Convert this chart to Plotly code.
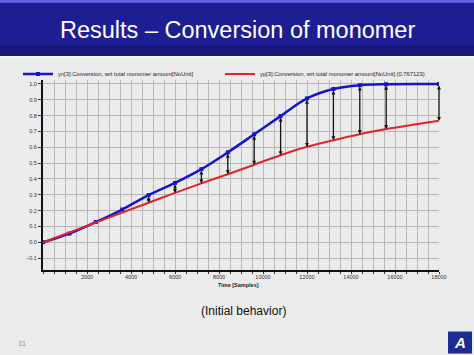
import plotly.graph_objects as go

# ---- data ----
time_blue = [0, 1200, 2400, 3600, 4800, 6000, 7200, 8400, 9600, 10800, 12000, 13200, 14400, 15600, 18000]
conv_yn = [0.0, 0.055, 0.128, 0.207, 0.298, 0.375, 0.462, 0.568, 0.682, 0.797, 0.909, 0.968, 0.992, 0.998, 0.999]
time_red = [0, 1200, 2400, 3600, 4800, 6000, 7200, 8400, 9600, 10800, 12000, 13200, 14400, 15600, 16800, 18000]
conv_yp = [0.0, 0.062, 0.125, 0.188, 0.25, 0.312, 0.372, 0.43, 0.49, 0.55, 0.603, 0.645, 0.683, 0.715, 0.742, 0.767]
arrow_times = [3600, 4800, 6000, 7200, 8400, 9600, 10800, 12000, 13200, 14400, 15600, 18000]
x_ticks = [2000, 4000, 6000, 8000, 10000, 12000, 14000, 16000, 18000]
y_ticks = [-0.1, 0.0, 0.1, 0.2, 0.3, 0.4, 0.5, 0.6, 0.7, 0.8, 0.9, 1.0]

name_yn = "yn[3]:Conversion, wrt total monomer amount[NoUnit]"
name_yp = "yp[3]:Conversion, wrt total monomer amount[NoUnit] (0.767123)"
title_text = "Results – Conversion of monomer"
caption = "(Initial behavior)"
page_no = "11"

W, H = 474, 355
L, R, T, B = 43, 35, 80, 85.4
PW, PH = W - L - R, H - T - B


def px(p):
    return (p - L) / PW


def py(p):
    return (H - B - p) / PH


FONT = "Liberation Sans, Arial, sans-serif"
BG = "#ebebeb"

fig = go.Figure()
fig.add_trace(go.Scatter(
    x=time_blue, y=conv_yn, mode="lines+markers", name=name_yn,
    line=dict(color="#1515cc", width=2.5, shape="spline"),
    marker=dict(symbol="square", size=4, color="#1515cc"), legend="legend"))
fig.add_trace(go.Scatter(
    x=time_red, y=conv_yp, mode="lines", name=name_yp,
    line=dict(color="#e0242c", width=2, shape="spline"), legend="legend2"))

red_map = dict(zip(time_red, conv_yp))
blue_map = dict(zip(time_blue, conv_yn))
for t in arrow_times:
    fig.add_annotation(
        x=t, y=red_map[t], ax=t, ay=blue_map[t], xref="x", yref="y", axref="x", ayref="y",
        showarrow=True, arrowhead=2, arrowside="end+start", arrowsize=0.6,
        arrowwidth=1.3, arrowcolor="#111111", text="")

shapes = [
    dict(type="rect", xref="paper", yref="paper", x0=px(0), x1=px(W), y0=py(56), y1=py(0),
         fillcolor="#1e1e94", line_width=0, layer="below"),
    dict(type="rect", xref="paper", yref="paper", x0=px(0), x1=px(W), y0=py(45), y1=py(56),
         fillcolor="#18187a", line_width=0, layer="below"),
    dict(type="rect", xref="paper", yref="paper", x0=px(0), x1=px(W), y0=py(3), y1=py(0),
         fillcolor="#6262e4", line_width=0, layer="below"),
    dict(type="rect", xref="paper", yref="paper", x0=px(0), x1=px(W), y0=py(58), y1=py(56),
         fillcolor="#f7f7f7", line_width=0, layer="below"),
    dict(type="rect", xref="paper", yref="paper", x0=px(448), x1=px(472), y0=py(353), y1=py(331),
         fillcolor="#1c2c90", line_width=0, layer="below"),
]


def note(xp, yp, text, size, color):
    fig.add_annotation(x=px(xp), y=py(yp), xref="paper", yref="paper", text=text,
                       xanchor="center", yanchor="middle", showarrow=False,
                       font=dict(family=FONT, size=size, color=color))


note(237, 30, title_text, 23.5, "white")
note(243, 311, caption, 12, "#111111")
note(22, 343, page_no, 8, "#9a9a9a")
note(460, 342, "<b><i>A</i></b>", 15, "white")
note(238, 285, "<b>Time [Samples]</b>", 5.5, "#222222")

fig.update_layout(
    width=W, height=H, margin=dict(l=L, r=R, t=T, b=B),
    paper_bgcolor=BG, plot_bgcolor=BG, shapes=shapes, showlegend=True,
    font=dict(family=FONT, size=6, color="#333333"),
    legend=dict(x=px(18), y=py(74), xanchor="left", yanchor="middle", orientation="h",
                bgcolor="rgba(0,0,0,0)", font=dict(size=5.8, color="#222222"), itemwidth=30,
                visible=True),
    legend2=dict(x=px(220), y=py(74), xanchor="left", yanchor="middle", orientation="h",
                 bgcolor="rgba(0,0,0,0)", font=dict(size=5.8, color="#222222"), itemwidth=30,
                 visible=True),
    xaxis=dict(range=[0, 18000], tickvals=x_ticks, ticktext=[str(v) for v in x_ticks],
               showgrid=True, gridcolor="#b8b8b8", gridwidth=1,
               minor=dict(dtick=500, showgrid=True, gridcolor="#b8b8b8", gridwidth=1,
                          ticks="outside", ticklen=2, tickcolor="#333"),
               ticks="outside", ticklen=2, tickcolor="#333", ticklabelstandoff=-2,
               showline=True, linecolor="#111111", linewidth=2, zeroline=False,
               tickfont=dict(size=5.5, color="#333333")),
    yaxis=dict(range=[-0.175, 1.025], tickvals=y_ticks, tickformat=".1f",
               showgrid=True, gridcolor="#b8b8b8", gridwidth=1,
               ticks="outside", ticklen=3, tickcolor="#333",
               showline=True, linecolor="#111111", linewidth=2, zeroline=False,
               tickfont=dict(size=5.5, color="#333333")),
)

fig.write_html("out.html")
